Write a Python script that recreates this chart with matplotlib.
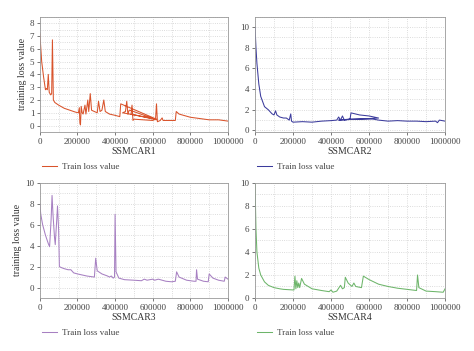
import matplotlib.pyplot as plt
from matplotlib.ticker import MultipleLocator

plt.rcParams['font.family'] = ['Liberation Serif', 'DejaVu Serif']

# SSMCAR1 (x in thousands of steps)
x1 = [0, 10, 20, 30, 35, 40, 45, 50, 58, 63, 67, 72, 80, 100, 130, 160, 190, 205, 210, 213,
      216, 220, 225, 230, 240, 245, 255, 260, 268, 275, 290, 305, 312, 320, 330, 340, 348,
      370, 400, 425, 430, 620, 440, 455, 462, 468, 475, 480, 620, 485, 490, 495, 500, 550,
      600, 615, 620, 625, 640, 650, 655, 700, 720, 725, 740, 800, 850, 900, 950, 1000]
y1 = [7.2, 5.0, 3.8, 2.8, 2.9, 2.8, 4.0, 2.6, 2.4, 2.5, 6.7, 2.0, 1.8, 1.6, 1.35, 1.2, 1.05, 1.0, 1.4, 0.2,
      0.05, 1.5, 1.0, 0.9, 1.6, 0.9, 2.0, 1.1, 2.5, 1.2, 1.1, 1.0, 1.9, 1.1, 1.2, 2.0, 1.1,
      0.9, 0.8, 0.7, 1.7, 0.5, 1.0, 1.1, 1.9, 0.9, 1.2, 1.2, 0.45, 0.9, 1.6, 0.4, 0.5, 0.45,
      0.4, 0.5, 1.7, 0.3, 0.4, 0.6, 0.4, 0.4, 0.4, 1.1, 0.9, 0.65, 0.55, 0.45, 0.45, 0.35]

# SSMCAR2
x2 = [0, 5, 10, 20, 30, 40, 50, 70, 90, 100, 108, 115, 130, 150, 165, 180, 188, 192, 200,
      250, 300, 350, 400, 430, 440, 450, 460, 470, 500, 505, 550, 600, 650, 440, 500, 560,
      620, 650, 700, 750, 800, 850, 900, 950, 960, 970, 1000]
y2 = [10.0, 8.0, 6.5, 4.5, 3.3, 2.8, 2.3, 2.0, 1.6, 1.5, 1.9, 1.5, 1.3, 1.2, 1.2, 1.0, 1.6, 0.9, 0.8,
      0.85, 0.8, 0.9, 0.95, 1.0, 1.3, 1.0, 1.4, 1.0, 1.1, 1.7, 1.5, 1.4, 1.2, 1.0, 1.1, 1.1,
      1.1, 1.0, 0.9, 0.95, 0.9, 0.9, 0.85, 0.9, 0.75, 1.0, 0.9]

# SSMCAR3
x3 = [0, 5, 15, 30, 45, 52, 60, 65, 70, 78, 82, 90, 94, 100, 104, 115, 130, 150, 165, 180,
      200, 250, 290, 297, 305, 330, 360, 370, 380, 390, 397, 400, 405, 420, 450, 500, 540,
      555, 570, 600, 610, 630, 650, 670, 700, 720, 727, 740, 780, 820, 830, 833, 838, 870,
      895, 900, 920, 950, 980, 985, 1000]
y3 = [8.0, 7.0, 6.0, 5.0, 4.2, 3.9, 6.5, 8.8, 7.0, 4.8, 4.1, 6.5, 7.8, 5.5, 2.0, 1.9, 1.8, 1.7, 1.7, 1.4,
      1.3, 1.1, 1.0, 2.8, 1.6, 1.3, 1.1, 1.0, 1.1, 0.9, 1.0, 7.0, 1.5, 0.9, 0.75, 0.7, 0.65,
      0.8, 0.7, 0.8, 0.7, 0.8, 0.7, 0.6, 0.55, 0.6, 1.5, 1.0, 0.7, 0.6, 0.6, 1.7, 0.8, 0.6,
      0.55, 1.3, 0.9, 0.7, 0.6, 1.0, 0.8]

# SSMCAR4
x4 = [0, 5, 10, 20, 30, 50, 70, 100, 130, 150, 200, 205, 210, 215, 220, 225, 230, 235, 245,
      260, 300, 350, 390, 400, 410, 430, 450, 460, 470, 475, 490, 510, 520, 530, 560, 570,
      600, 650, 700, 750, 800, 850, 855, 862, 900, 950, 990, 1000]
y4 = [10.0, 6.0, 4.0, 2.6, 2.0, 1.4, 1.1, 0.9, 0.8, 0.75, 0.7, 0.7, 1.9, 0.8, 1.5, 0.9, 1.3, 0.9, 1.7,
      1.2, 0.8, 0.65, 0.55, 0.7, 0.5, 0.6, 1.1, 0.8, 0.9, 1.8, 1.3, 1.0, 1.3, 1.0, 0.9, 1.9,
      1.6, 1.2, 1.0, 0.85, 0.75, 0.65, 2.0, 0.9, 0.6, 0.55, 0.5, 0.8]

panels = [
    ("SSMCAR1", x1, y1, '#d9532b', (-0.5, 8.5), 1, [0.084, 0.624, 0.397, 0.328], True),
    ("SSMCAR2", x2, y2, '#3b3b9c', (-0.15, 11), 2, [0.538, 0.624, 0.401, 0.328], False),
    ("SSMCAR3", x3, y3, '#a780c2', (-1, 10), 2, [0.084, 0.151, 0.397, 0.328], True),
    ("SSMCAR4", x4, y4, '#6db56a', (0, 10), 2, [0.538, 0.151, 0.401, 0.328], False),
]

fig = plt.figure(figsize=(4.74, 3.51), dpi=100)

for name, xs, ys, color, ylim, ystep, rect, ylab in panels:
    ax = fig.add_axes(rect)
    ax.plot([v * 1000 for v in xs], ys, color=color, lw=0.75, label='Train loss value')
    ax.set_xlim(0, 1000000)
    ax.set_ylim(*ylim)
    ax.xaxis.set_major_locator(MultipleLocator(200000))
    ax.xaxis.set_minor_locator(MultipleLocator(100000))
    ax.yaxis.set_major_locator(MultipleLocator(ystep))
    ax.yaxis.set_minor_locator(MultipleLocator(ystep / 2))
    ax.ticklabel_format(axis='x', style='plain', useOffset=False)
    ax.grid(which='both', color='#d0d0d0', linestyle=':', linewidth=0.6)
    for s in ax.spines.values():
        s.set_color('#999999')
        s.set_linewidth(0.6)
    ax.tick_params(which='both', labelsize=6.5, colors='#444444', length=2, width=0.5,
                   pad=2, direction='out')
    ax.tick_params(which='minor', length=0)
    ax.set_xlabel(name, fontsize=7, color='#333333', labelpad=1)
    if ylab:
        ax.set_ylabel('training loss value', fontsize=7, color='#333333', labelpad=2)
    ax.legend(loc='upper left', bbox_to_anchor=(-0.03, -0.2), frameon=False, fontsize=6.5,
              handlelength=1.6, handletextpad=0.6, labelcolor='#444444')

plt.savefig('out.png', dpi=100)
